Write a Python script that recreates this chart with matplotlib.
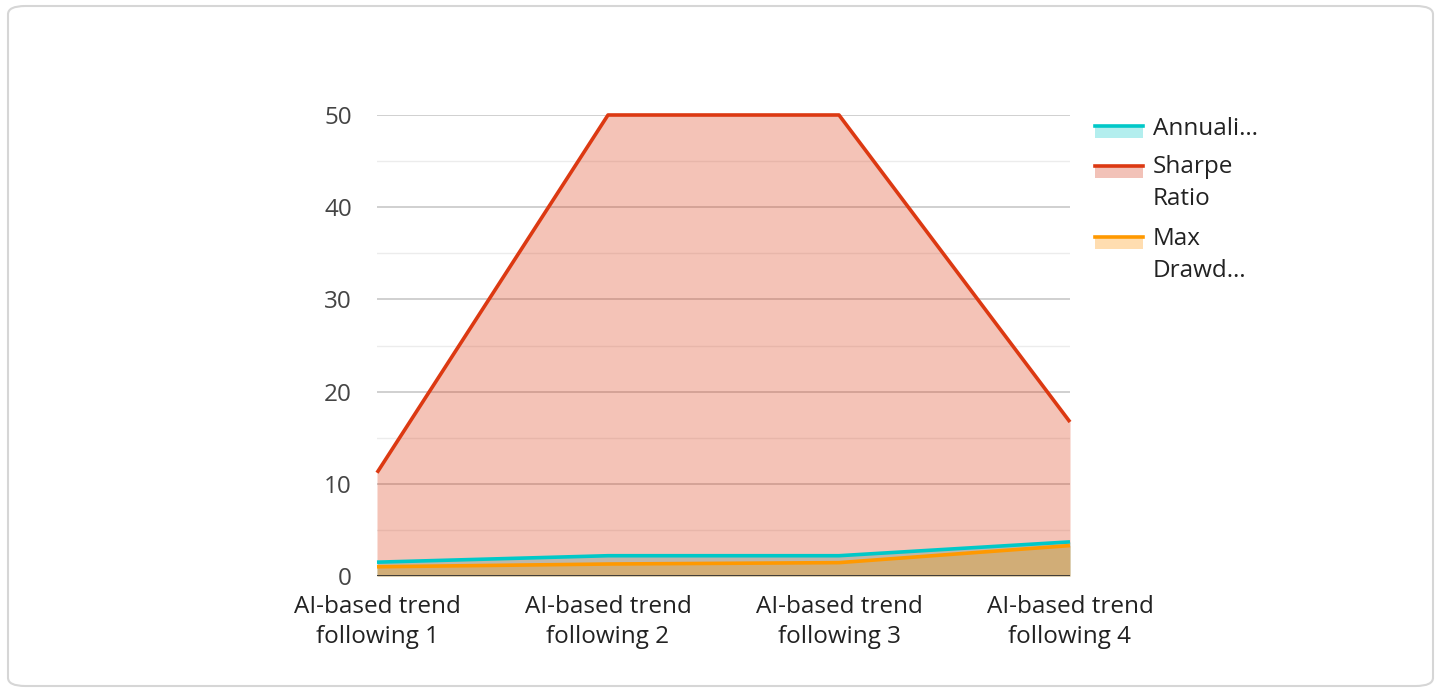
import matplotlib
matplotlib.use("Agg")
import matplotlib.pyplot as plt
from matplotlib.patches import FancyBboxPatch, Rectangle
from matplotlib.lines import Line2D
import numpy as np

plt.rcParams['font.family'] = ['Open Sans', 'DejaVu Sans']

categories = ["AI-based trend\nfollowing 1", "AI-based trend\nfollowing 2",
              "AI-based trend\nfollowing 3", "AI-based trend\nfollowing 4"]
annualized = [1.5, 2.2, 2.2, 3.7]
sharpe = [11.2, 50.0, 50.0, 16.7]
max_drawdown = [1.0, 1.3, 1.45, 3.3]
legend_labels = ["Annuali…", "Sharpe\nRatio", "Max\nDrawd…"]
yticks = [0, 10, 20, 30, 40, 50]

colors = ["#00c8c8", "#dc3912", "#ff9900"]
fills = ["#b3eeee", "#f2c2b8", "#ffddb0"]

W, H = 1442, 692
fig = plt.figure(figsize=(W / 100, H / 100), dpi=100)

# card border
card = FancyBboxPatch((8 / W, 6 / H), (W - 17) / W, (H - 12) / H,
                      boxstyle="round,pad=0,rounding_size=0.012",
                      transform=fig.transFigure, fc="white",
                      ec="#d6d6d6", lw=1.5, zorder=-10)
fig.patches.append(card)

ax = fig.add_axes([377 / W, 1 - 576 / H, (1070 - 377) / W, (576 - 115) / H])
ax.set_zorder(5)
ax.set_facecolor("none")
x = np.arange(len(categories))
series = [annualized, sharpe, max_drawdown]
for s, c in zip(series, colors):
    ax.fill_between(x, 0, s, color=c, alpha=0.3, lw=0, zorder=2)
for s, c in zip(series, colors):
    ax.plot(x, s, color=c, lw=2.6, zorder=3, clip_on=False, solid_capstyle="butt")

ax.set_xlim(0, 3)
ax.set_ylim(0, 50)
ax.set_yticks(yticks)
ax.set_yticks(np.arange(5, 50, 10), minor=True)
ax.set_xticks(x)
ax.set_xticklabels(categories, linespacing=1.3)
for sp in ax.spines.values():
    sp.set_visible(False)
ax.grid(axis="y", which="major", color="#c8c8c8", lw=1.2, zorder=1)
ax.grid(axis="y", which="minor", color="#ececec", lw=1.0, zorder=1)
ax.axhline(0, color="#333333", lw=2, zorder=4)
ax.tick_params(axis="both", which="both", length=0, labelsize=17.5, colors="#444444")
ax.tick_params(axis="y", pad=18)
ax.tick_params(axis="x", pad=14)
for t in ax.get_xticklabels():
    t.set_color("#222222")

# legend (pixel rows of the sample line and of each text line's centre)
line_ys = [126, 166, 237]
text_ys = [127, 165, 237]
for (ly, ty, lab, c, f) in zip(line_ys, text_ys, legend_labels, colors, fills):
    fig.add_artist(Rectangle((1095 / W, 1 - (ly + 12) / H), 48 / W, 12 / H,
                             transform=fig.transFigure, fc=f, ec="none", zorder=6))
    fig.add_artist(Line2D([1095 / W, 1143 / W], [1 - ly / H] * 2,
                          transform=fig.transFigure, color=c, lw=2.6, zorder=7))
    for i, part in enumerate(lab.split("\n")):
        fig.text(1153 / W, 1 - (ty + 32 * i + 8) / H, part, fontsize=17.5,
                 color="#222222", va="baseline", ha="left", zorder=7)

fig.savefig("out.png", dpi=100)
